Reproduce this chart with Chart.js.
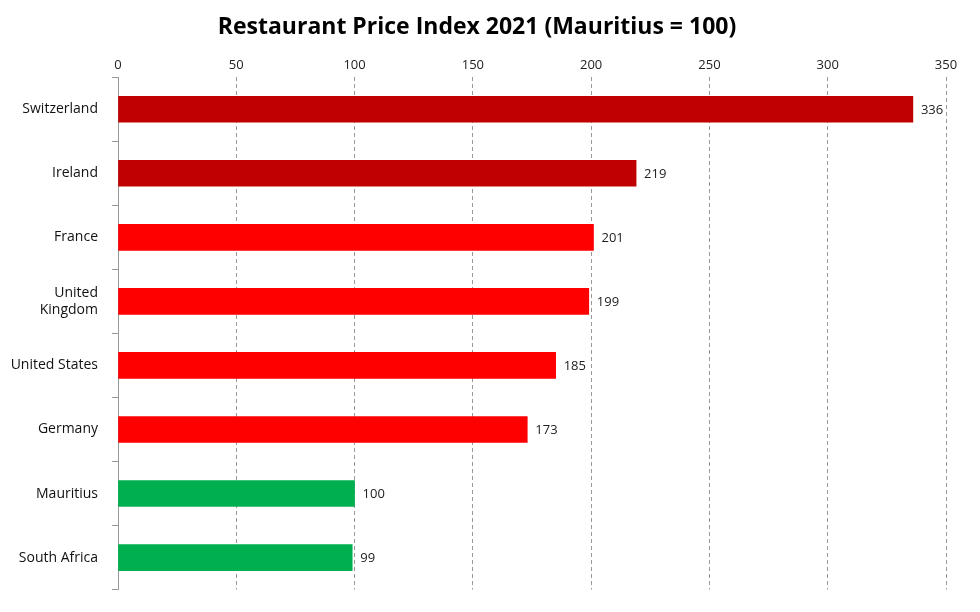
<!DOCTYPE html>
<html>
<head>
<meta charset="utf-8">
<script src="https://cdn.jsdelivr.net/npm/chart.js@4"></script>
<style>
  body { margin: 0; background: #fff; }
  #wrap { width: 980px; height: 612px; }
</style>
</head>
<body>
<div id="wrap"><canvas id="grafico"></canvas></div>
<script>
// dados do gráfico
const paises = ['Switzerland', 'Ireland', 'France', ['United', 'Kingdom'], 'United States', 'Germany', 'Mauritius', 'South Africa'];
const indice = [336, 219, 201, 199, 185, 173, 100, 99];
const cores = ['#C00000', '#C00000', '#FF0000', '#FF0000', '#FF0000', '#FF0000', '#00B050', '#00B050'];
const ticksX = [0, 50, 100, 150, 200, 250, 300, 350];

const fonte = "'Open Sans', 'DejaVu Sans', sans-serif";

// rótulos de valor no fim das barras
const rotulos = {
  id: 'rotulos',
  afterDatasetsDraw(chart) {
    const ctx = chart.ctx;
    const meta = chart.getDatasetMeta(0);
    ctx.save();
    ctx.font = '13px ' + fonte;
    ctx.fillStyle = '#222';
    ctx.textBaseline = 'middle';
    meta.data.forEach((bar, i) => {
      ctx.fillText(indice[i], bar.x + 8, bar.y + 1);
    });
    ctx.restore();
  }
};

new Chart(document.getElementById('grafico'), {
  type: 'bar',
  data: {
    labels: paises,
    datasets: [{
      data: indice,
      backgroundColor: cores,
      barThickness: 26,
    }],
  },
  plugins: [rotulos],
  options: {
    indexAxis: 'y',
    responsive: true,
    maintainAspectRatio: false,
    animation: false,
    layout: { padding: { left: 8, right: 34, top: 0, bottom: 14 } },
    plugins: {
      legend: { display: false },
      tooltip: { enabled: false },
      title: {
        display: true,
        text: 'Restaurant Price Index 2021 (Mauritius = 100)',
        font: { family: fonte, size: 23, weight: 'bold' },
        color: '#000',
        padding: { top: 14, bottom: 12 },
      },
    },
    scales: {
      x: {
        position: 'top',
        min: 0,
        max: 350,
        afterBuildTicks(axis) { axis.ticks = ticksX.map(v => ({ value: v })); },
        ticks: { font: { family: fonte, size: 13 }, color: '#222', padding: 4 },
        grid: { color: '#999', drawTicks: false, borderDash: [4, 3] },
        border: { display: false, dash: [4, 3] },
      },
      y: {
        afterFit(axis) { axis.width = 110; },
        ticks: { font: { family: fonte, size: 14 }, color: '#111', padding: 14 },
        grid: { offset: true, drawOnChartArea: false, color: '#999', tickLength: 6 },
        border: { display: true, color: '#999' },
      },
    },
  },
});
</script>
</body>
</html>
